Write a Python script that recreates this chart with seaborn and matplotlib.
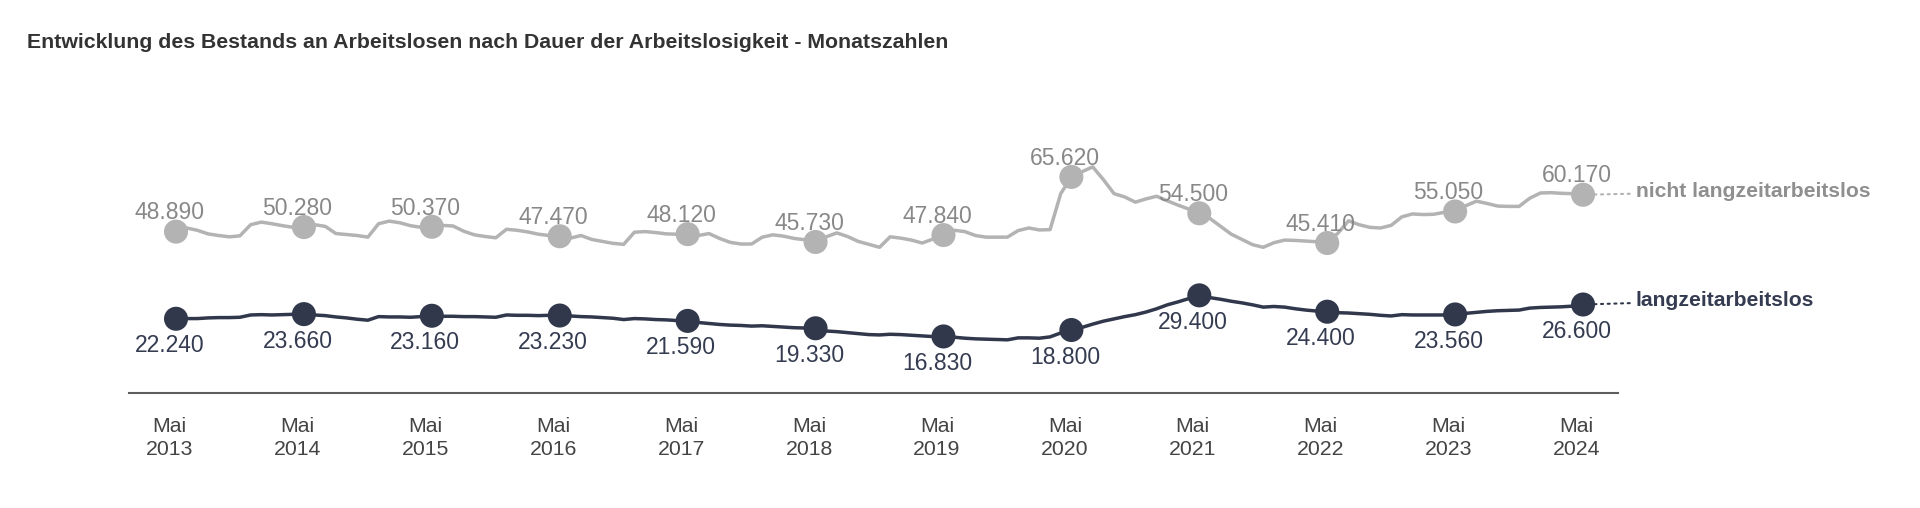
import numpy as np
import pandas as pd
import matplotlib
matplotlib.use("Agg")
import matplotlib.pyplot as plt
import seaborn as sns
from matplotlib.transforms import ScaledTranslation

title = "Entwicklung des Bestands an Arbeitslosen nach Dauer der Arbeitslosigkeit - Monatszahlen"
series_names = ["nicht langzeitarbeitslos", "langzeitarbeitslos"]
years = list(range(2013, 2025))
month_label = "Mai"

# monthly stock in thousands, May 2013 ... May 2024 (one row = May .. April)
nicht_lz = [
    48.89, 50.0, 49.3, 48.2, 47.7, 47.3, 47.6, 51.0, 51.8, 51.3, 50.7, 50.2,
    50.28, 51.0, 50.5, 48.3, 48.0, 47.7, 47.2, 51.3, 52.1, 51.6, 50.7, 50.2,
    50.37, 50.8, 50.6, 49.0, 47.9, 47.4, 47.0, 49.6, 49.3, 48.8, 48.1, 47.7,
    47.47, 46.9, 47.7, 46.5, 45.9, 45.3, 45.0, 48.7, 48.9, 48.6, 48.2, 48.1,
    48.12, 47.7, 48.3, 46.8, 45.6, 45.1, 45.1, 47.2, 47.9, 47.5, 46.8, 46.4,
    45.73, 47.3, 48.5, 47.4, 45.9, 45.0, 44.1, 47.3, 46.9, 46.3, 45.4, 46.6,
    47.84, 49.3, 48.9, 47.7, 47.2, 47.2, 47.2, 49.2, 50.0, 49.4, 49.5, 60.5,
    65.62, 67.2, 68.7, 64.8, 60.5, 59.5, 57.9, 58.9, 59.7, 58.3, 57.0, 55.8,
    54.50, 52.9, 50.5, 48.1, 46.5, 44.9, 44.1, 45.5, 46.3, 46.2, 46.0, 45.8,
    45.41, 48.4, 52.2, 51.0, 50.2, 50.0, 50.8, 53.4, 54.3, 54.1, 54.2, 54.8,
    55.05, 56.8, 58.2, 57.5, 56.7, 56.6, 56.6, 59.1, 60.7, 60.8, 60.6, 60.5,
    60.17,
]
lz = [
    22.24, 22.3, 22.3, 22.5, 22.6, 22.6, 22.7, 23.4, 23.5, 23.4, 23.5, 23.6,
    23.66, 23.4, 23.2, 22.8, 22.5, 22.1, 21.8, 22.9, 22.8, 22.8, 22.7, 22.9,
    23.16, 23.0, 23.0, 22.9, 22.9, 22.8, 22.7, 23.4, 23.3, 23.3, 23.2, 23.3,
    23.23, 23.1, 22.9, 22.8, 22.6, 22.4, 22.0, 22.3, 22.2, 22.0, 21.9, 21.7,
    21.59, 21.1, 20.8, 20.5, 20.3, 20.2, 20.0, 20.1, 19.9, 19.7, 19.5, 19.4,
    19.33, 18.5, 18.3, 18.0, 17.7, 17.4, 17.3, 17.5, 17.4, 17.2, 17.0, 16.8,
    16.83, 16.6, 16.3, 16.1, 16.0, 15.9, 15.8, 16.4, 16.4, 16.3, 16.7, 17.9,
    18.80, 19.6, 20.6, 21.5, 22.2, 22.9, 23.5, 24.3, 25.3, 26.5, 27.4, 28.4,
    29.40, 28.7, 28.2, 27.6, 27.1, 26.5, 25.8, 26.0, 25.8, 25.3, 24.9, 24.6,
    24.40, 24.1, 24.0, 23.8, 23.6, 23.3, 23.1, 23.5, 23.4, 23.4, 23.4, 23.4,
    23.56, 23.9, 24.2, 24.5, 24.7, 24.8, 24.9, 25.5, 25.7, 25.8, 25.9, 26.1,
    26.60,
]

line_colors = {series_names[0]: "#b3b3b3", series_names[1]: "#31384c"}
label_colors = {series_names[0]: "#888888", series_names[1]: "#353c51"}

sns.set_theme(style="white")
plt.rcParams["font.family"] = ["Liberation Sans", "DejaVu Sans"]

n = len(nicht_lz)
idx = np.arange(n)
df = pd.DataFrame({
    "idx": np.concatenate([idx, idx]),
    "value": np.concatenate([nicht_lz, lz]),
    "series": [series_names[0]] * n + [series_names[1]] * n,
})
may = df[df["idx"] % 12 == 0].reset_index(drop=True)

W, H = 1920, 508
fig = plt.figure(figsize=(W / 100, H / 100), dpi=100)
ax = fig.add_axes([129 / W, 115 / H, 1489 / W, 293 / H])

sns.lineplot(data=df, x="idx", y="value", hue="series", palette=line_colors,
             linewidth=2.5, estimator=None, legend=False, ax=ax)
sns.scatterplot(data=may, x="idx", y="value", hue="series", palette=line_colors,
                s=300, linewidth=0, legend=False, ax=ax, zorder=3)

ax.set_xlim(-4.41, 135.28)
ax.set_ylim(-0.46, 89.14)

for _, r in may.iterrows():
    txt = f"{round(r['value'] * 1000):,}".replace(",", ".")
    dy = 13.5 if r["series"] == series_names[0] else -19.5
    ax.annotate(txt, (r["idx"], r["value"]), xytext=(-4.7, dy),
                textcoords="offset points", ha="center", va="center",
                fontsize=16.5, color=label_colors[r["series"]], zorder=4)

# end labels with dotted connectors
end_colors = {series_names[0]: "#8f8f8f", series_names[1]: "#353c51"}
for name, vals, dy in [(series_names[0], nicht_lz, 2.5), (series_names[1], lz, 3.0)]:
    ax.annotate(name, (idx[-1], vals[-1]), xytext=(38, dy), textcoords="offset points",
                ha="left", va="center", fontsize=15.2, fontweight="bold",
                color=end_colors[name], annotation_clip=False,
                arrowprops=dict(arrowstyle="-", linestyle=(0, (1, 2.2)), lw=1.5,
                                color=line_colors[name], shrinkA=2, shrinkB=9))

ax.set_xticks(may["idx"].unique())
ax.set_xticklabels([f"{month_label}\n{y}" for y in years], fontsize=15.3, color="#444444",
                   linespacing=1.32)
ax.tick_params(axis="x", length=0, pad=17)
shift = ScaledTranslation(-6.5 / 100, 0, fig.dpi_scale_trans)
for lbl in ax.get_xticklabels():
    lbl.set_transform(lbl.get_transform() + shift)

ax.set_yticks([])
ax.set_xlabel("")
ax.set_ylabel("")
for s in ["left", "right", "top"]:
    ax.spines[s].set_visible(False)
ax.spines["bottom"].set_color("#5e5e5e")
ax.spines["bottom"].set_linewidth(1.5)

fig.text(27 / W, 1 - 42 / H, title, fontsize=15.3, fontweight="bold",
         color="#333333", ha="left", va="center")

fig.savefig("out.png", dpi=100)
